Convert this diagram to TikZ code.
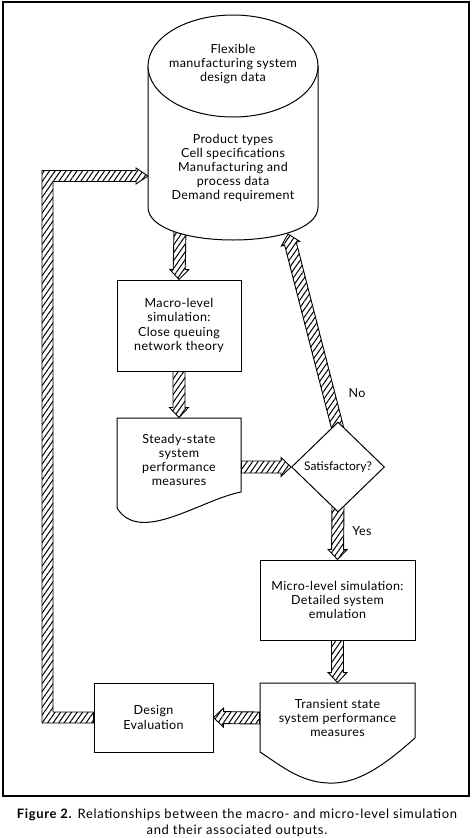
\documentclass[tikz,border=0pt]{standalone}
\usepackage{fontspec}
\setmainfont{Lato}[LetterSpace=3]
\usetikzlibrary{calc,patterns.meta,shapes.geometric,backgrounds}
\newcommand\hatcharrow[2]{%
  \draw[hatch] let \p1=(#1), \p2=(#2),
    \n1={atan2(\y2-\y1,\x2-\x1)}, \n2={veclen(\x2-\x1,\y2-\y1)} in
    ($(\p1)+(\n1+90:6pt)$) -- ($(\p1)+(\n1:\n2-10pt)+(\n1+90:6pt)$)
    -- ($(\p1)+(\n1:\n2-10pt)+(\n1+90:9.5pt)$) -- (\p2)
    -- ($(\p1)+(\n1:\n2-10pt)+(\n1-90:9.5pt)$) -- ($(\p1)+(\n1:\n2-10pt)+(\n1-90:6pt)$)
    -- ($(\p1)+(\n1-90:6pt)$) -- cycle;}
\begin{document}
\begin{tikzpicture}[x=1pt,y=-1pt,line width=1pt,
  txt/.style={align=center,font=\fontsize{12.5}{14.2}\selectfont,inner sep=0pt},
  box/.style={txt,draw,fill=white},
  hatch/.style={draw,line width=0.9pt,pattern={Lines[angle=55,distance=4.5pt,line width=1pt]}}]
\useasboundingbox (0,0) rectangle (474,838);
\draw[line width=1.2pt] (3,2) rectangle (469,796);
% cylinder
\filldraw[fill=white] (148,66) -- (148,207) .. controls (148,251) and (318,251) .. (318,207) -- (318,66) -- cycle;
\filldraw[fill=white] (233,66) ellipse[x radius=85,y radius=51];
\node[txt] (cyltop) at (233,64) {Flexible\\manufacturing system\\design data};
\node[txt] (cylbody) at (233,168) {Product types\\Cell specifications\\Manufacturing and\\process data\\Demand requirement};
\coordinate (cylbot) at (180,230);
\coordinate (cylno) at (288,234);
\coordinate (cylin) at (148,176);
\coordinate (fbx) at (47.5,400);
% macro box
\node[box,minimum width=124,minimum height=91] (macro) at (179,325.5) {Macro-level\\simulation:\\Close queuing\\network theory};
% steady-state document
\filldraw[fill=white] (117,418) -- (241,418) -- (241,492) .. controls (200,500) and (140,545) .. (117,508) -- cycle;
\node[txt,minimum width=124,minimum height=84] (steady) at (179,460) {Steady-state\\system\\performance\\measures};
% decision
\node[diamond,draw,fill=white,minimum width=93,minimum height=90,inner sep=0pt] (dia) at (338,467) {};
\node[txt,font=\fontsize{12}{14}\selectfont\addfontfeature{LetterSpace=0}] (diatxt) at (dia.center) {Satisfactory?};
\node[txt] (no) at (357,393) {No};
\node[txt] (yes) at (362,531) {Yes};
% micro box
\node[box,minimum width=155,minimum height=80] (micro) at (337.5,600) {Micro-level simulation:\\Detailed system\\emulation};
% transient document
\filldraw[fill=white] (260,683) -- (415,683) -- (415,738) .. controls (390,760) and (360,785) .. (328,783) .. controls (300,782) and (280,765) .. (260,752) -- cycle;
\node[txt,minimum width=155,minimum height=70] (trans) at (337.5,718) {Transient state\\system performance\\measures};
% design evaluation
\node[box,minimum width=119,minimum height=69] (des) at (153.5,717.5) {Design\\Evaluation};
% caption
\node[align=center,font=\fontsize{13}{16}\selectfont\addfontfeature{LetterSpace=5},inner sep=0pt] (cap) at (237,823) {\textbf{Figure 2.} Relationships between the macro- and micro-level simulation\\and their associated outputs.};
% hatched arrows
\begin{pgfonlayer}{background}
\hatcharrow{cylbot}{macro.north}
\hatcharrow{macro.south}{steady.north}
\hatcharrow{steady.east |- dia.west}{dia.west}
\hatcharrow{$(dia.north)+(0,8)$}{cylno}
\hatcharrow{$(dia.south)+(0,-8)$}{micro.north}
\hatcharrow{micro.south}{trans.north}
\hatcharrow{trans.west}{des.east}
\draw[hatch] let \p1=(des.west), \p2=(cylin), \p3=(fbx) in
  (\x1,\y1+5.5pt) -- (\x3+5.5pt,\y1+5.5pt) -- (\x3+5.5pt,\y2-5.5pt) -- (\x2-12pt,\y2-5.5pt)
  -- (\x2-12pt,\y2-8pt) -- (\x2,\y2) -- (\x2-12pt,\y2+8pt) -- (\x2-12pt,\y2+5.5pt)
  -- (\x3-5.5pt,\y2+5.5pt) -- (\x3-5.5pt,\y1-5.5pt) -- (\x1,\y1-5.5pt) -- cycle;
\end{pgfonlayer}
\end{tikzpicture}
\end{document}
